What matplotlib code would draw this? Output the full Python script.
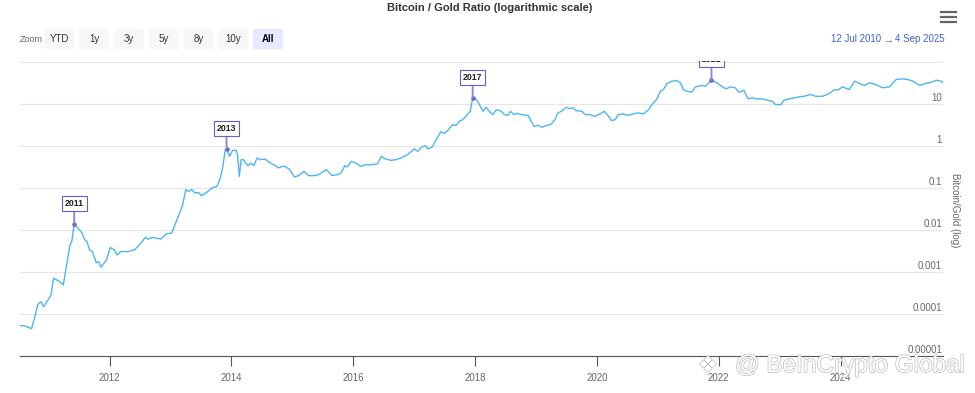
import numpy as np
import matplotlib
matplotlib.use('Agg')
import matplotlib.pyplot as plt
from matplotlib.patches import FancyBboxPatch
from matplotlib.lines import Line2D
import matplotlib.patheffects as pe

plt.rcParams['font.family'] = ['Liberation Sans', 'DejaVu Sans']

# decimal year / BTC-to-gold ratio
dates = [
    2010.52, 2010.60, 2010.72, 2010.76, 2010.82, 2010.87, 2010.92, 2011.04, 2011.08, 2011.18,
    2011.24, 2011.31, 2011.35, 2011.38, 2011.42, 2011.48, 2011.55, 2011.59, 2011.63, 2011.67,
    2011.72, 2011.78, 2011.82, 2011.86, 2011.95, 2012.01, 2012.08, 2012.12, 2012.19, 2012.30,
    2012.41, 2012.49, 2012.59, 2012.63, 2012.71, 2012.84, 2012.93, 2013.02, 2013.15, 2013.20,
    2013.25, 2013.29, 2013.35, 2013.40, 2013.46, 2013.51, 2013.59, 2013.68, 2013.76, 2013.81,
    2013.85, 2013.90, 2013.92, 2013.97, 2014.02, 2014.08, 2014.10, 2014.13, 2014.16, 2014.20,
    2014.24, 2014.28, 2014.32, 2014.37, 2014.42, 2014.47, 2014.55, 2014.64, 2014.72, 2014.77,
    2014.83, 2014.88, 2014.96, 2015.03, 2015.10, 2015.19, 2015.27, 2015.35, 2015.43, 2015.51,
    2015.56, 2015.65, 2015.74, 2015.80, 2015.86, 2015.90, 2015.97, 2016.04, 2016.12, 2016.20,
    2016.31, 2016.40, 2016.46, 2016.53, 2016.62, 2016.70, 2016.78, 2016.89, 2017.00, 2017.06,
    2017.11, 2017.18, 2017.23, 2017.30, 2017.36, 2017.44, 2017.49, 2017.55, 2017.63, 2017.69,
    2017.74, 2017.80, 2017.85, 2017.92, 2017.96, 2018.02, 2018.07, 2018.13, 2018.18, 2018.24,
    2018.29, 2018.35, 2018.43, 2018.48, 2018.54, 2018.58, 2018.64, 2018.69, 2018.76, 2018.87,
    2018.92, 2018.97, 2019.03, 2019.10, 2019.17, 2019.24, 2019.31, 2019.36, 2019.42, 2019.50,
    2019.55, 2019.61, 2019.66, 2019.75, 2019.81, 2019.88, 2019.97, 2020.05, 2020.12, 2020.19,
    2020.24, 2020.30, 2020.35, 2020.43, 2020.52, 2020.60, 2020.68, 2020.76, 2020.85, 2020.91,
    2020.98, 2021.04, 2021.09, 2021.15, 2021.23, 2021.31, 2021.37, 2021.42, 2021.48, 2021.56,
    2021.61, 2021.70, 2021.78, 2021.88, 2021.97, 2022.05, 2022.12, 2022.19, 2022.27, 2022.33,
    2022.41, 2022.48, 2022.55, 2022.63, 2022.71, 2022.80, 2022.88, 2022.93, 2023.02, 2023.07,
    2023.15, 2023.24, 2023.32, 2023.40, 2023.51, 2023.59, 2023.70, 2023.81, 2023.90, 2023.95,
    2024.03, 2024.14, 2024.23, 2024.31, 2024.39, 2024.47, 2024.58, 2024.69, 2024.80, 2024.87,
    2024.91, 2025.02, 2025.10, 2025.19, 2025.30, 2025.38, 2025.49, 2025.57, 2025.65, 2025.68,
]
ratio = [
    5.26e-5, 5.26e-5, 4.47e-5, 7.2e-5, 1.64e-4, 1.96e-4, 1.49e-4, 2.83e-4, 7.08e-4, 5.87e-4,
    4.9e-4, 1.93e-3, 4.4e-3, 5.26e-3, 0.0137, 0.011, 8.34e-3, 5.78e-3, 5.26e-3, 3.34e-3,
    3.04e-3, 1.66e-3, 1.76e-3, 1.29e-3, 1.93e-3, 3.79e-3, 3.34e-3, 2.54e-3, 3.04e-3, 3.04e-3,
    3.34e-3, 4.4e-3, 6.7e-3, 6.0e-3, 6.6e-3, 6.0e-3, 8.0e-3, 8.34e-3, 0.025, 0.0394,
    0.0896, 0.0817, 0.0896, 0.0748, 0.0766, 0.0645, 0.0766, 0.0984, 0.107, 0.155,
    0.268, 0.803, 0.834, 0.556, 0.773, 0.773, 0.611, 0.186, 0.464, 0.464,
    0.373, 0.334, 0.387, 0.334, 0.509, 0.464, 0.482, 0.387, 0.334, 0.294,
    0.321, 0.321, 0.268, 0.18, 0.193, 0.244, 0.193, 0.193, 0.204, 0.244,
    0.268, 0.196, 0.204, 0.224, 0.334, 0.311, 0.423, 0.387, 0.321, 0.353,
    0.353, 0.373, 0.556, 0.482, 0.447, 0.464, 0.509, 0.611, 0.834, 0.731,
    0.896, 1.0, 0.834, 0.946, 1.39, 2.15, 1.96, 2.28, 3.16, 3.04,
    3.79, 4.16, 4.99, 6.56, 13.7, 12.5, 9.47, 6.56, 8.16, 6.35,
    5.47, 7.2, 6.56, 5.47, 5.26, 6.56, 5.47, 5.87, 5.47, 5.26,
    3.79, 2.88, 3.04, 2.73, 3.04, 3.16, 4.16, 6.0, 6.56, 8.16,
    7.6, 7.9, 6.81, 6.56, 5.47, 5.47, 4.99, 5.68, 6.56, 4.99,
    3.94, 4.16, 5.47, 5.68, 5.26, 5.68, 6.0, 5.68, 7.2, 9.84,
    12.5, 19.6, 21.5, 29.9, 34.0, 35.3, 31.1, 21.5, 19.6, 18.8,
    24.7, 26.8, 25.8, 35.9, 31.1, 25.8, 22.4, 25.0, 23.7, 18.6,
    20.7, 12.9, 13.7, 12.9, 12.9, 12.0, 11.3, 9.47, 9.47, 12.0,
    12.9, 13.7, 14.4, 14.9, 16.4, 14.9, 14.9, 17.3, 21.5, 20.7,
    25.0, 21.5, 34.0, 29.9, 26.8, 31.1, 28.3, 23.7, 25.0, 32.2,
    37.3, 38.7, 37.3, 34.0, 26.8, 29.9, 32.2, 35.9, 34.0, 31.1,
]

flag_labels = ['2011', '2013', '2017', '2021']
flag_dates = [2011.42, 2013.92, 2017.96, 2021.88]

year_ticks = [2012, 2014, 2016, 2018, 2020, 2022, 2024]
y_ticks = [1e-5, 1e-4, 1e-3, 1e-2, 1e-1, 1, 10, 100]
y_tick_labels = ['0.00001', '0.0001', '0.001', '0.01', '0.1', '1', '10']
zoom_buttons = ['YTD', '1y', '3y', '5y', '8y', '10y', 'All']
range_from = '12 Jul 2010'
range_to = '4 Sep 2025'

W, H = 975, 393
fig = plt.figure(figsize=(W / 100, H / 100), dpi=100)

def fx(px):
    return px / W

def fy(py):
    return 1 - py / H

ax = fig.add_axes([fx(20), fy(356), fx(923), (356 - 60.5) / H])
ax.plot(dates, ratio, color='#4db5f7', lw=1.0, zorder=3)
ax.set_yscale('log')
ax.set_ylim(1e-5, 100 * 10 ** (1 / 42))
ax.set_xlim(2010.53, 2025.68)

for s in ['top', 'left', 'right']:
    ax.spines[s].set_visible(False)
ax.spines['bottom'].set_color('#555555')
ax.spines['bottom'].set_linewidth(0.8)

ax.set_yticks(y_ticks)
ax.yaxis.set_minor_locator(matplotlib.ticker.NullLocator())
ax.tick_params(axis='y', length=0, labelleft=False)
ax.yaxis.grid(True, color='#e6e6e6', lw=0.8)
ax.set_axisbelow(True)

ax.set_xticks(year_ticks, labels=[str(y) for y in year_ticks])
ax.tick_params(axis='x', length=7, width=0.8, color='#555555', labelsize=7,
               labelcolor='#666666', pad=5)

for v, lab in zip(y_ticks, y_tick_labels):
    ax.text(0.999, v * 1.06, lab, transform=ax.get_yaxis_transform(), ha='right',
            va='bottom', fontsize=7, color='#666666')

fig.text(fx(955), fy(210), 'Bitcoin/Gold (log)', rotation=270, ha='center', va='center',
         fontsize=7, color='#666666')

# flags on the cycle tops
logr = np.log10(ratio)
for lab, d in zip(flag_labels, flag_dates):
    v = 10 ** np.interp(d, dates, logr)
    ax.plot(d, v, 'o', ms=2.2, color='#6a5acd', zorder=4)
    ax.annotate(lab, xy=(d, v), xytext=(0, 20.5), textcoords='offset pixels',
                ha='center', va='center', fontsize=6.3, fontweight='bold', color='#222222',
                bbox=dict(boxstyle='square,pad=0.33', fc='white', ec='#6a5acd', lw=0.8),
                arrowprops=dict(arrowstyle='-', color='#8a84d6', lw=1.3, shrinkA=0, shrinkB=0),
                clip_on=True, zorder=5)

# title
fig.text(fx(490), fy(8), 'Bitcoin / Gold Ratio (logarithmic scale)', ha='center', va='center',
         fontsize=8, fontweight='bold', color='#333333')

# range selector
fig.text(fx(20), fy(40), 'Zoom', ha='left', va='center', fontsize=6.5, color='#666666')
for i, lab in enumerate(zoom_buttons):
    x0 = 44.3 + i * 34.8
    active = lab == 'All'
    fig.add_artist(FancyBboxPatch((fx(x0), fy(49.3)), fx(29.7), (49.3 - 29) / H,
                                  boxstyle='round,pad=0,rounding_size=0.003',
                                  fc='#e6e9ff' if active else '#f7f7f7', ec='none',
                                  transform=fig.transFigure))
    fig.text(fx(x0 + 14.85), fy(39.5), lab, ha='center', va='center', fontsize=7,
             color='#000000' if active else '#333333',
             fontweight='bold' if active else 'normal')

fig.text(fx(856), fy(39), range_from, ha='center', va='center', fontsize=7, color='#3d63dd')
fig.text(fx(888), fy(40), '→', ha='center', va='center', fontsize=7, color='#666666')
fig.text(fx(920), fy(39), range_to, ha='center', va='center', fontsize=7, color='#3d63dd')

# menu icon
for yy in [12.3, 17.3, 22.3]:
    fig.add_artist(Line2D([fx(940.5), fx(956)], [fy(yy), fy(yy)], color='#666666', lw=1.6,
                          transform=fig.transFigure))

# watermark
stroke = [pe.withStroke(linewidth=1.0, foreground='#bdbdbd')]
fig.text(fx(698), fy(366), '❖', ha='left', va='center', fontsize=16, color='white',
         path_effects=stroke, family='DejaVu Sans')
fig.text(fx(735), fy(366), '@ BeInCrypto Global', ha='left', va='center', fontsize=17.5,
         color='white', path_effects=stroke)

fig.savefig('out.png', dpi=100)
